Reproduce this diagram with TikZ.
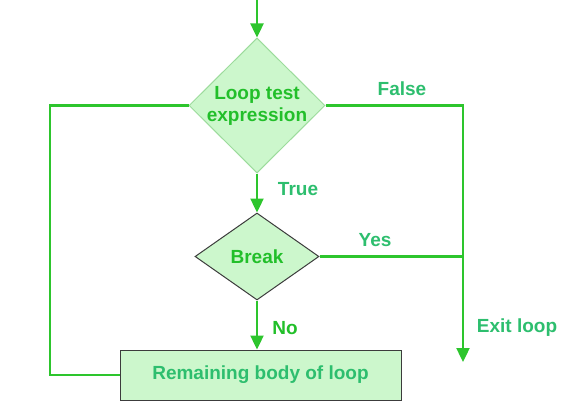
\documentclass[tikz,border=0pt]{standalone}
\usepackage{fontspec}
\setmainfont{Liberation Sans}
\usepackage{tikz}
\usetikzlibrary{arrows.meta}
\usetikzlibrary{shapes.geometric}
\definecolor{line}{HTML}{2DC52D}
\definecolor{fillg}{HTML}{CCF7CC}
\definecolor{edgeg}{HTML}{9CDB9C}
\definecolor{txtg}{HTML}{22BF2A}
\definecolor{lblg}{HTML}{2DBE6E}
\definecolor{edged}{HTML}{3C3C3C}

\begin{document}
\begin{tikzpicture}[x=1pt,y=-1pt]
  \tikzstyle{every node}=[font=\fontsize{19}{22}\selectfont\bfseries]
  \tikzstyle{cond} = [diamond,fill=fillg,inner sep=0pt,align=center,text=txtg]
  \tikzstyle{body} = [rectangle,fill=fillg,draw=edged,line width=1pt,text=lblg]
  \tikzstyle{Line} = [draw=line,line width=2.4pt]
  \tikzstyle{Arrow} = [Line,-{Triangle[length=14pt,width=13pt]}]
  \tikzstyle{lbl} = [text=lblg]
  \useasboundingbox (0,0) rectangle (563,412);
  %%
  \node[cond,draw=edgeg,line width=1pt,inner sep=-4pt,minimum width=136pt,minimum height=135pt]
    (test) at (257,105.5) {Loop test\\expression};
  \node[cond,draw=edged,line width=1pt,minimum width=124pt,minimum height=87pt]
    (brk) at (257,256.5) {Break};
  \node[body,minimum width=281pt,minimum height=50pt]
    (rest) at (260.5,375) {Remaining body of loop};
  %%
  \coordinate (start) at (257,-2);
  \coordinate (exit) at (463,362);
  \coordinate (join) at (463,256.5);
  \path [Arrow] (start) to (test.north);
  \path [Arrow] (test.south) to (brk.north);
  \path [Arrow] (brk.south) to (rest.north -| brk.south);
  \path [Line] (rest.west) -- (50,375) |- (test.west);
  \path [Arrow] (test.east) -| (exit);
  \path [Line] (brk.east) -- (join);
  %%
  \node[lbl] (false) at (402,89) {False};
  \node[lbl] (true) at (298,189) {True};
  \node[lbl] (yes) at (375,240) {Yes};
  \node[text=txtg] (no) at (285,328) {No};
  \node[lbl] (out) at (517,328) {Exit loop};
\end{tikzpicture}
\end{document}
